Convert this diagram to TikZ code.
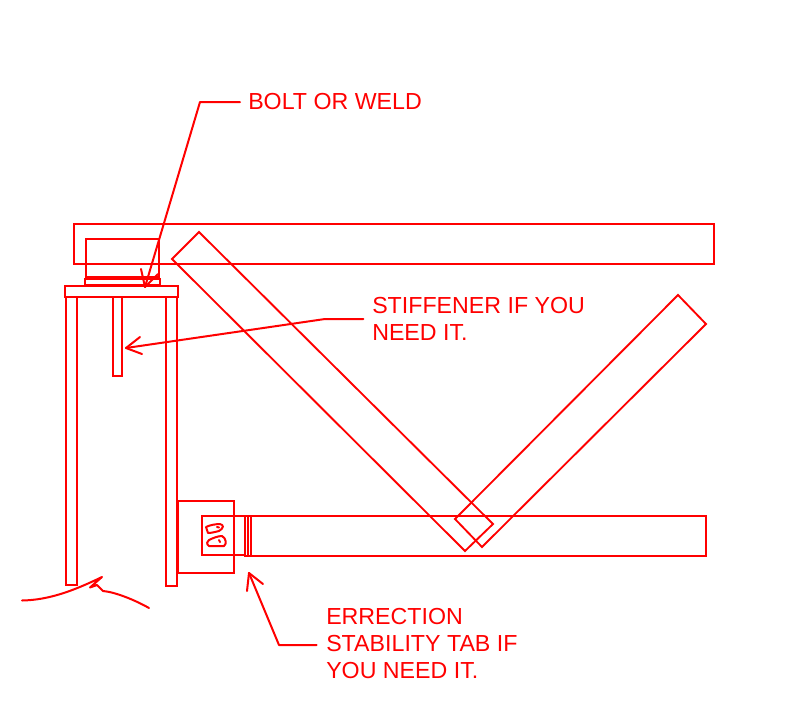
\documentclass[tikz,border=0pt]{standalone}
\usepackage{fontspec}
\setmainfont{Liberation Sans}
\definecolor{cad}{RGB}{255,0,0}
\tikzset{
 px/.style={x=0.75pt,y=-0.75pt},
 ln/.style={draw=cad,line width=1.4pt,line join=miter},
 lead/.style={draw=cad,line width=1.5pt,line join=round,line cap=round},
 lab/.style={text=cad,font=\fontsize{17.4pt}{20.3pt}\selectfont,align=left,inner sep=0pt,anchor=west},
}
\begin{document}
\begin{tikzpicture}[px]
\useasboundingbox (0,0) rectangle (800,722);
% chords
\draw[ln] (74,224) rectangle (714,264);
\draw[ln] (245,516) rectangle (706,556);
\draw[ln] (248,516) -- (248,556);
\draw[ln] (251,516) -- (251,556);
% diagonals
\draw[ln] (172,259) -- (199,232) -- (493,524) -- (465,551) -- cycle;
\draw[ln] (455,519) -- (678,295) -- (706,324) -- (482,547) -- cycle;
% column
\draw[ln] (86,239) rectangle (159,277);
\draw[ln] (85,279) rectangle (160,285);
\draw[ln] (65,286) rectangle (178,297);
\draw[ln] (66,297) rectangle (77,585);
\draw[ln] (166,297) rectangle (177,586);
\draw[ln] (113,297) rectangle (122,376);
% tab
\draw[ln] (178,501) rectangle (234,573);
\draw[ln] (202,516) rectangle (245,555);
% bolts
\draw[lead] (206,527) .. controls (210,525) and (216,524) .. (220,524) .. controls (224,525) and (224,528) .. (219,531) .. controls (215,532) and (211,533) .. (208,533) -- cycle;
\draw[lead] (217,527) -- (219,527.5);
\draw[lead] (209,546) .. controls (206,544) and (207,541) .. (209,540) .. controls (213,538) and (218,536) .. (222,536) .. controls (226,538) and (227,544) .. (224,546) -- cycle;
\draw[lead] (219,540) -- (220,542);
% break line
\draw[lead] (22,600.5) .. controls (50,600) and (75,590) .. (102,577) -- (90,587.5) -- (97,585) -- (103,591) .. controls (115,592) and (135,600) .. (149,608);
% labels
\node[lab] (bolt) at (248,101.5) {BOLT OR WELD};
\node[lab] (stiff) at (372,318.5) {STIFFENER IF YOU\\NEED IT.};
\node[lab] (tab) at (326,643.5) {ERRECTION\\STABILITY TAB IF\\YOU NEED IT.};
% leaders
\coordinate (b1) at (200,102);
\coordinate (b2) at (145,287);
\coordinate (s1) at (325,319);
\coordinate (s2) at (126,348);
\coordinate (t1) at (279,645);
\coordinate (t2) at (249,573);
\draw[lead,shorten <=6pt] (bolt.west |- b1) -- (b1) -- (b2);
\draw[lead] (141,269) -- (b2) -- (158,274);
\draw[lead,shorten <=6.5pt] (stiff.west |- s1) -- (s1) -- (s2);
\draw[lead] (140,337) -- (s2) -- (142,354);
\draw[lead,shorten <=7pt] (tab.west |- t1) -- (t1) -- (t2);
\draw[lead] (247,591) -- (t2) -- (263,584);
\end{tikzpicture}
\end{document}
